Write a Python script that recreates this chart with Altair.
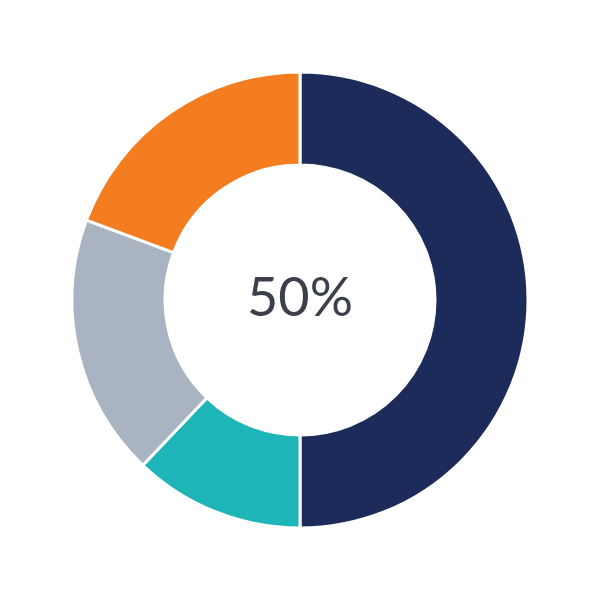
import altair as alt
import pandas as pd

categories = ["A", "B", "C", "D"]
values = [50, 12.1, 18.6, 19.3]
orders = [1, 2, 3, 4]
colors = ["#1c2b59", "#1db5b8", "#a9b3c1", "#f47d20"]
center_label = "50%"

df = pd.DataFrame({"cat": categories, "value": values, "ord": orders})

arc = alt.Chart(df).mark_arc(
    outerRadius=228, innerRadius=135, stroke="white", strokeWidth=3
).encode(
    theta=alt.Theta("value:Q", stack=True),
    order=alt.Order("ord:Q"),
    color=alt.Color("cat:N", scale=alt.Scale(domain=categories, range=colors), legend=None),
)

txt = alt.Chart(pd.DataFrame({"t": [center_label]})).mark_text(
    font="Lato", fontSize=54, color="#3b404c", align="center", baseline="middle"
).encode(
    text="t:N",
    x=alt.value(292),
    y=alt.value(292),
)

chart = alt.layer(arc, txt).properties(
    width=584, height=584, padding=0,
    autosize=alt.AutoSizeParams(type="fit", contains="padding"),
).configure_view(stroke=None)

chart.save("out.html", embed_options={"renderer": "svg", "actions": False})
